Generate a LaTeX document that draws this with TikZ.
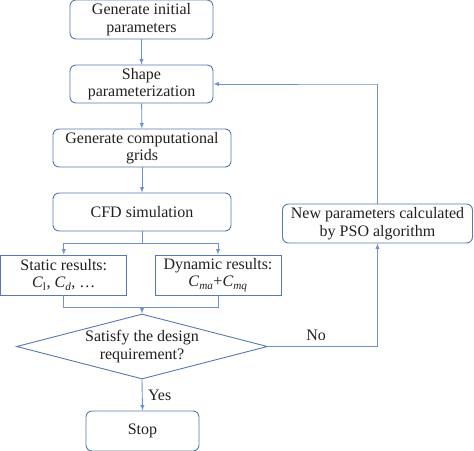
\documentclass[tikz,border=0pt]{standalone}
\usepackage{fontspec}
\setmainfont{Liberation Serif}
\usepackage{tikz}
\usetikzlibrary{shapes,arrows,positioning,calc}

\definecolor{boxline}{HTML}{5878AE}
\definecolor{flowline}{HTML}{6B93CF}
\definecolor{txt}{HTML}{231F20}

\begin{document}
\begin{tikzpicture}[x=1pt,y=-1pt,
		font=\fontsize{16}{17.5}\selectfont, text=txt,
		block/.style={draw=boxline, line width=0.9pt, rounded corners=6pt, align=center, inner sep=0pt},
		result/.style={draw=boxline, line width=0.9pt, align=center, inner sep=0pt, minimum height=40pt},
		decision/.style={draw=boxline, line width=0.9pt, diamond, aspect=3.9, align=center, inner sep=0pt, minimum width=251pt, minimum height=65pt},
		flow/.style={draw=flowline, line width=0.9pt, -latex},
		link/.style={draw=flowline, line width=0.9pt}]
		\useasboundingbox (0,0) rectangle (474,450);

		\node[block, minimum width=143pt, minimum height=39pt] (init) at (141.5,19.5) {Generate initial\\parameters};
		\node[block, minimum width=143pt, minimum height=38pt] (shape) at (141.5,84) {Shape\\parameterization};
		\node[block, minimum width=178pt, minimum height=38pt] (grid) at (142,148) {Generate computational\\grids};
		\node[block, minimum width=178pt, minimum height=38pt] (cfd) at (142,212) {CFD simulation};
		\node[result, minimum width=126pt] (static) at (63.8,275) {Static results:\\\textit{C}\textsubscript{l}, \textit{C}\textsubscript{\textit{d}}, \dots};
		\node[result, minimum width=126pt] (dynamic) at (218,275) {Dynamic results:\\\textit{C}\textsubscript{\textit{ma}}+\textit{C}\textsubscript{\textit{mq}}};
		\node[decision] (check) at (142,346.5) {Satisfy the design\\requirement?};
		\node[block, minimum width=190pt, minimum height=39pt] (pso) at (377.5,223.5) {New parameters calculated\\by PSO algorithm};
		\node[block, minimum width=113pt, minimum height=40pt] (stop) at (142.5,431) {Stop};

		\coordinate (split) at (142,243);
		\coordinate (join) at (142,307);
		\coordinate (back) at (377,84);

		\draw[flow] (init) -- (shape);
		\draw[flow] (shape) -- (grid);
		\draw[flow] (grid) -- (cfd);
		\draw[link] (cfd) -- (split);
		\draw[flow] (split) -| (static);
		\draw[flow] (split) -| (dynamic);
		\draw[link] (static) |- (join);
		\draw[link] (dynamic) |- (join);
		\draw[flow] (join) -- (check);
		\draw[flow] (check.east) -| node[pos=0.22, above=2pt] {No} (pso.south);
		\draw[flow] (pso.north) |- (back) -- (shape.east);
		\draw[flow] (check.south) -- node[right=2pt] {Yes} (stop.north);
\end{tikzpicture}
\end{document}
